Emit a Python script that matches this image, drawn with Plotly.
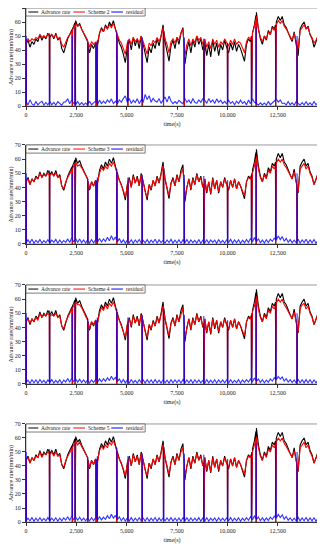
import numpy as np
import plotly.graph_objects as go

# ---------------- data ----------------
time_s = [round(i * 14500 / 147) for i in range(148)]

advance_rate = [
    44, 47, 42, 46, 44, 48, 46, 51, 47, 50,
    48, 52, 49, 51, 48, 52, 47, 49, 41, 38,
    44, 48, 51, 54, 57, 61, 57, 59, 55, 52,
    50, 46, 38, 44, 41, 45, 43, 52, 56, 53,
    58, 55, 60, 57, 61, 55, 50, 45, 42, 37,
    31, 42, 47, 40, 49, 43, 48, 41, 50, 44,
    36, 31, 42, 38, 45, 41, 48, 43, 50, 58,
    46, 40, 32, 43, 47, 41, 49, 44, 52, 56,
    30, 40, 46, 38, 47, 42, 50, 44, 48, 40,
    46, 36, 44, 35, 47, 39, 45, 36, 44, 40,
    47, 42, 38, 45, 40, 46, 39, 44, 41, 37,
    32, 44, 48, 46, 52, 58, 67, 55, 48, 44,
    50, 47, 54, 51, 57, 55, 60, 64, 61, 64,
    58, 56, 52, 49, 46, 53, 44, 36, 55, 58,
    60, 55, 57, 51, 48, 42, 46, 50]

scheme_2 = [
    47, 48, 46, 48, 47, 49, 48, 51, 49, 50,
    49, 51, 50, 51, 49, 51, 48, 49, 44, 42,
    46, 49, 51, 53, 56, 59, 57, 58, 55, 52,
    50, 47, 42, 46, 44, 46, 45, 52, 55, 53,
    57, 55, 58, 56, 59, 55, 51, 47, 45, 41,
    37, 45, 48, 44, 49, 46, 48, 45, 50, 46,
    41, 37, 45, 43, 47, 45, 49, 46, 50, 56,
    48, 44, 38, 46, 48, 45, 49, 47, 52, 55,
    36, 44, 48, 43, 48, 45, 50, 47, 49, 44,
    48, 42, 46, 41, 48, 44, 47, 42, 46, 44,
    48, 45, 43, 47, 44, 48, 44, 46, 45, 42,
    38, 46, 49, 48, 52, 57, 64, 55, 49, 46,
    50, 48, 53, 51, 56, 54, 58, 61, 59, 61,
    57, 55, 52, 49, 47, 52, 46, 41, 54, 56,
    58, 55, 56, 51, 49, 45, 47, 50]

scheme_3 = [
    44, 46, 42, 46, 44, 47, 46, 50, 47, 49,
    48, 50, 48, 50, 48, 50, 47, 48, 41, 39,
    44, 47, 50, 52, 55, 58, 55, 56, 54, 51,
    49, 46, 39, 44, 41, 45, 43, 50, 54, 52,
    55, 53, 57, 55, 58, 54, 49, 45, 42, 38,
    33, 42, 46, 40, 48, 43, 47, 41, 49, 44,
    37, 33, 42, 39, 45, 41, 47, 43, 49, 55,
    46, 40, 34, 43, 46, 41, 48, 44, 50, 53,
    33, 40, 46, 39, 46, 42, 49, 44, 47, 40,
    46, 37, 44, 36, 46, 39, 45, 37, 44, 40,
    46, 42, 39, 45, 40, 46, 39, 44, 41, 38,
    34, 44, 47, 46, 50, 55, 62, 53, 47, 44,
    49, 46, 52, 50, 55, 53, 57, 60, 58, 60,
    56, 54, 51, 48, 46, 51, 44, 37, 53, 55,
    57, 53, 55, 50, 47, 42, 46, 49]

scheme_4 = [
    44, 46, 43, 46, 44, 47, 45, 50, 47, 49,
    48, 50, 48, 49, 48, 50, 47, 48, 41, 39,
    44, 47, 50, 53, 55, 58, 56, 56, 54, 51,
    49, 45, 39, 44, 42, 45, 43, 50, 54, 52,
    56, 53, 57, 55, 58, 54, 49, 45, 41, 38,
    33, 42, 46, 41, 48, 43, 47, 42, 49, 44,
    37, 33, 42, 39, 44, 41, 47, 43, 49, 55,
    46, 40, 34, 43, 46, 41, 48, 44, 50, 54,
    33, 41, 46, 39, 46, 42, 49, 44, 47, 41,
    46, 37, 44, 36, 46, 40, 45, 37, 44, 40,
    46, 42, 39, 45, 40, 46, 39, 44, 41, 38,
    34, 44, 47, 46, 51, 55, 62, 53, 47, 44,
    49, 46, 52, 50, 55, 53, 57, 60, 58, 60,
    56, 54, 51, 48, 46, 51, 44, 37, 53, 56,
    57, 53, 55, 50, 47, 42, 46, 49]

scheme_5 = [
    44, 46, 42, 46, 44, 47, 46, 50, 46, 49,
    48, 50, 48, 50, 47, 50, 47, 48, 41, 39,
    44, 47, 50, 52, 55, 58, 55, 57, 54, 51,
    49, 46, 39, 44, 41, 45, 43, 51, 54, 52,
    55, 53, 57, 55, 58, 54, 49, 45, 42, 38,
    33, 42, 46, 40, 48, 43, 47, 41, 49, 44,
    37, 33, 42, 39, 45, 41, 47, 43, 49, 55,
    46, 40, 34, 43, 46, 41, 48, 44, 50, 53,
    33, 40, 46, 39, 46, 42, 49, 44, 47, 40,
    46, 37, 44, 36, 46, 39, 45, 37, 44, 40,
    46, 42, 39, 45, 40, 46, 39, 44, 41, 38,
    34, 44, 47, 46, 50, 55, 61, 53, 47, 44,
    49, 46, 52, 50, 55, 53, 57, 60, 58, 60,
    56, 54, 51, 48, 46, 51, 44, 37, 53, 55,
    57, 53, 55, 50, 47, 42, 46, 49]

residual_2 = [
    3.2, 0.8, 4.4, 1.5, 0.6, 3.1, 0.9, 2.4, 3.4, 0.7,
    2.5, 0.8, 3.3, 0.9, 2.6, 0.7, 3.1, 1.8, 0.6, 2.7,
    3.1, 5.2, 1.6, 4.3, 1.9, 0.8, 3.2, 0.9, 2.4, 0.8,
    2.2, 0.7, 3.4, 0.9, 2.3, 3.3, 0.8, 4.2, 1.8, 3.5,
    1.9, 4.3, 2.6, 5.1, 1.8, 3.4, 1.7, 4.3, 2.6, 5.3,
    7.2, 2.6, 5.4, 1.8, 4.1, 2.5, 5.2, 1.7, 4.3, 2.6,
    8.3, 4.6, 7.4, 2.7, 5.5, 3.6, 2.8, 5.3, 1.9, 4.2,
    6.4, 2.8, 7.1, 3.6, 1.7, 3.2, 1.8, 4.1, 2.7, 1.6,
    5.2, 2.6, 4.3, 1.8, 5.4, 2.7, 1.9, 4.3, 2.6, 5.1,
    4.2, 1.9, 5.3, 2.7, 4.4, 1.8, 5.1, 2.6, 4.2, 1.7,
    3.3, 1.6, 4.1, 1.8, 3.2, 0.9, 3.4, 1.7, 4.2, 1.8,
    3.1, 0.8, 4.3, 1.7, 5.1, 2.6, 1.8, 0.7, 2.3, 0.8,
    2.2, 0.7, 3.3, 0.9, 2.4, 3.2, 5.1, 2.8, 4.3, 1.8,
    2.1, 0.8, 3.2, 0.9, 2.3, 0.7, 3.1, 1.8, 0.7, 2.4,
    0.9, 3.1, 0.8, 2.3, 0.7, 3.2, 0.9, 2.2]

residual_3 = [
    0.6, 2.9, 0.8, 3.3, 0.5, 2.6, 1.0, 3.1, 0.7, 2.4,
    0.9, 3.0, 0.6, 2.7, 1.1, 3.2, 0.5, 2.8, 0.8, 2.5,
    1.2, 3.6, 1.0, 4.4, 1.5, 3.8, 1.1, 3.5, 0.9, 2.8,
    0.7, 2.9, 0.6, 3.1, 0.9, 2.7, 1.3, 3.9, 1.4, 3.6,
    1.8, 4.7, 2.2, 5.8, 2.6, 4.9, 1.5, 3.8, 0.8, 2.9,
    0.6, 2.7, 0.9, 3.0, 0.5, 2.8, 1.0, 3.2, 0.7, 2.6,
    0.8, 3.1, 0.6, 2.7, 1.0, 3.3, 0.5, 2.9, 0.9, 2.6,
    0.7, 2.8, 1.0, 3.2, 0.6, 2.7, 0.8, 3.0, 0.5, 2.9,
    0.9, 3.1, 0.6, 2.8, 1.0, 2.6, 0.7, 3.2, 0.5, 2.7,
    0.8, 3.0, 0.6, 2.9, 1.1, 2.7, 0.5, 3.1, 0.8, 2.6,
    0.7, 2.9, 1.0, 3.2, 0.6, 2.8, 0.9, 3.0, 0.5, 2.7,
    0.9, 3.2, 1.1, 3.8, 1.4, 4.6, 1.6, 3.7, 0.8, 2.9,
    0.7, 3.0, 1.0, 3.4, 1.8, 4.1, 2.6, 5.6, 3.1, 5.2,
    1.9, 4.0, 1.2, 3.1, 0.8, 2.7, 1.0, 3.4, 0.7, 2.9,
    1.0, 3.3, 0.6, 2.8, 0.9, 3.1, 0.5, 2.7]

residual_4 = [
    0.8, 2.7, 0.5, 3.0, 0.9, 2.8, 0.6, 3.2, 1.0, 2.6,
    0.6, 2.9, 1.0, 3.1, 0.7, 2.6, 0.9, 3.0, 0.5, 2.8,
    1.4, 3.9, 1.2, 4.1, 1.7, 3.5, 1.3, 3.3, 1.0, 2.9,
    0.9, 3.0, 0.7, 2.8, 1.1, 3.1, 1.0, 3.6, 1.6, 3.8,
    2.0, 4.4, 2.4, 5.5, 2.9, 4.6, 1.7, 3.6, 1.0, 3.1,
    0.8, 2.9, 0.6, 3.2, 0.9, 2.6, 0.7, 3.0, 1.0, 2.8,
    0.6, 3.0, 0.8, 2.9, 0.7, 3.1, 0.9, 2.7, 0.6, 3.0,
    0.9, 2.7, 0.6, 3.0, 0.8, 2.9, 1.0, 2.8, 0.7, 3.1,
    0.7, 2.9, 0.9, 3.0, 0.6, 2.8, 1.0, 2.9, 0.8, 2.6,
    0.6, 3.1, 0.8, 2.7, 0.9, 3.0, 0.7, 2.8, 1.0, 2.9,
    0.9, 2.8, 0.7, 3.0, 0.8, 2.6, 1.0, 3.1, 0.6, 2.9,
    1.1, 3.0, 1.3, 3.6, 1.6, 4.3, 1.9, 3.5, 1.0, 3.0,
    0.9, 2.8, 1.2, 3.6, 2.0, 4.4, 2.8, 5.3, 3.4, 5.0,
    2.1, 3.8, 1.4, 3.0, 1.0, 2.9, 0.8, 3.2, 0.9, 3.0,
    0.8, 3.1, 0.9, 3.0, 0.7, 2.9, 0.8, 2.8]

residual_5 = [
    0.7, 2.8, 0.9, 3.1, 0.6, 2.7, 0.8, 3.0, 0.9, 2.5,
    0.8, 3.1, 0.7, 2.8, 0.9, 3.0, 0.6, 2.7, 0.9, 2.9,
    1.3, 3.7, 1.1, 4.2, 1.6, 3.6, 1.2, 3.4, 1.0, 2.7,
    0.8, 2.8, 0.8, 3.0, 1.0, 2.9, 1.2, 3.7, 1.5, 3.5,
    1.9, 4.5, 2.3, 5.6, 2.7, 4.7, 1.6, 3.7, 0.9, 3.0,
    0.7, 2.8, 0.8, 3.1, 0.7, 2.7, 0.9, 3.1, 0.8, 2.7,
    0.7, 3.0, 0.7, 2.8, 0.9, 3.2, 0.6, 2.8, 0.8, 2.8,
    0.8, 2.9, 0.9, 3.1, 0.7, 2.8, 0.9, 2.9, 0.6, 3.0,
    0.8, 3.0, 0.7, 2.9, 0.9, 2.7, 0.8, 3.1, 0.6, 2.8,
    0.7, 3.0, 0.7, 2.8, 1.0, 2.9, 0.6, 3.0, 0.9, 2.7,
    0.8, 2.9, 0.9, 3.1, 0.7, 2.7, 0.9, 3.0, 0.6, 2.8,
    1.0, 3.1, 1.2, 3.7, 1.5, 4.4, 1.7, 3.6, 0.9, 3.0,
    0.8, 2.9, 1.1, 3.5, 1.9, 4.2, 2.7, 5.4, 3.2, 5.1,
    2.0, 3.9, 1.3, 3.0, 0.9, 2.8, 0.9, 3.3, 0.8, 2.9,
    0.9, 3.2, 0.8, 2.9, 0.8, 3.0, 0.6, 2.8]

# stoppages: the rate drops to zero for a moment, residual spikes
drop_t = [10, 1170, 2300, 2440, 3070, 3480, 3540, 4510, 5060, 5770,
          6830, 7860, 8830, 10010, 11200, 11430, 12400, 13460]
adv_drop = [0, 0, 0, 0, 0, 0, 0, 0, 0, 0, 0, 0, 0, 0, 0, 0, 0, 0]
scheme_drop = [0, 0, 0, 0, 0, 0, 0, 0, 0, 0, 0, 0, 0, 0, 0, 0, 0, 0]
residual_spike = [50, 52, 50, 56, 46, 45, 47, 53, 47, 49,
                  53, 49, 48, 45, 50, 56, 55, 50]

scheme_names = ["Scheme 2", "Scheme 3", "Scheme 4", "Scheme 5"]
scheme_series = [scheme_2, scheme_3, scheme_4, scheme_5]
residual_series = [residual_2, residual_3, residual_4, residual_5]

x_tickvals = [0, 2500, 5000, 7500, 10000, 12500]
x_ticktext = ["0", "2,500", "5,000", "7,500", "10,000", "12,500"]
y_tickvals = [0, 10, 20, 30, 40, 50, 60, 70]

# ---------------- helpers ----------------
def with_spikes(base, spikes):
    base = np.asarray(base, float)
    xs = list(time_s)
    ys = list(base)
    for td, v in zip(drop_t, spikes):
        for dx in (-12, 0, 12):
            xs.append(td + dx)
            ys.append(v if dx == 0 else float(np.interp(td + dx, time_s, base)))
    order = np.argsort(np.asarray(xs, float), kind="stable")
    return np.asarray(xs, float)[order], np.asarray(ys, float)[order]

# ---------------- figure ----------------
# the page body keeps its default 8px margin, so the figure is sized to fit
W, H = 317, 542
ML, MR, MT, MB = 18, 7, 0, 28
domains = [(0.8093, 1.0), (0.5409, 0.7335), (0.2685, 0.4611), (0.0, 0.1907)]
FONT = "Liberation Serif"
TXT = "#222222"

fig = go.Figure()
layout = dict(
    width=W, height=H,
    margin=dict(l=ML, r=MR, t=MT, b=MB, pad=0),
    paper_bgcolor="white", plot_bgcolor="white",
    font=dict(family=FONT, size=6, color=TXT),
    showlegend=False,
)
shapes = []
annotations = []

for i in range(4):
    n = i + 1
    xa = "x" if n == 1 else f"x{n}"
    ya = "y" if n == 1 else f"y{n}"
    xk = "xaxis" if n == 1 else f"xaxis{n}"
    yk = "yaxis" if n == 1 else f"yaxis{n}"

    ax, ay = with_spikes(advance_rate, adv_drop)
    sx, sy = with_spikes(scheme_series[i], scheme_drop)
    rx, ry = with_spikes(residual_series[i], residual_spike)

    fig.add_trace(go.Scatter(x=ax, y=ay, mode="lines", name="Advance rate",
                             line=dict(color="#000000", width=1.1), xaxis=xa, yaxis=ya))
    fig.add_trace(go.Scatter(x=sx, y=sy, mode="lines", name=scheme_names[i],
                             line=dict(color="#ff0000", width=1.1), xaxis=xa, yaxis=ya))
    fig.add_trace(go.Scatter(x=rx, y=ry, mode="lines", name="residual",
                             line=dict(color="#0000ff", width=1.1), opacity=0.8,
                             xaxis=xa, yaxis=ya))

    layout[xk] = dict(
        domain=[0, 1], anchor=ya, range=[0, 14500],
        tickvals=x_tickvals, ticktext=x_ticktext,
        ticks="outside", ticklen=3, tickwidth=0.8, tickcolor="#333",
        showline=True, linecolor="#333", linewidth=1,
        showgrid=False, zeroline=False,
        tickfont=dict(size=6, family=FONT, color=TXT),
        title=dict(text="time(s)", font=dict(size=6, family=FONT, color=TXT), standoff=4),
        automargin=False,
    )
    layout[yk] = dict(
        domain=list(domains[i]), anchor=xa, range=[0, 70],
        tickvals=y_tickvals,
        ticks="outside", ticklen=3, tickwidth=0.8, tickcolor="#333",
        showline=True, linecolor="#333", linewidth=1,
        showgrid=False, zeroline=False,
        tickfont=dict(size=6, family=FONT, color=TXT),
        title=dict(text="Advance rate(mm/min)", font=dict(size=6, family=FONT, color=TXT), standoff=2),
        automargin=False,
    )

    xd, yd = f"{xa} domain", f"{ya} domain"
    # grey frame
    shapes.append(dict(type="rect", xref=xd, yref=yd, x0=0, x1=1, y0=0, y1=1,
                       line=dict(color="#9a9a9a", width=1), layer="below"))
    # legend box
    shapes.append(dict(type="rect", xref=xd, yref=yd, x0=0.0, x1=0.408, y0=0.918, y1=1.0,
                       line=dict(color="#444", width=0.7), fillcolor="white", layer="above"))
    leg = [("#000000", 0.008, 0.042, 0.049, "Advance rate"),
           ("#ff0000", 0.162, 0.202, 0.208, scheme_names[i]),
           ("#0000ff", 0.292, 0.332, 0.339, "residual")]
    for col, a0, a1, tx, label in leg:
        shapes.append(dict(type="line", xref=xd, yref=yd, x0=a0, x1=a1, y0=0.959, y1=0.959,
                           line=dict(color=col, width=1), layer="above"))
        annotations.append(dict(xref=xd, yref=yd, x=tx, y=0.959, text=label, showarrow=False,
                                xanchor="left", yanchor="middle", borderpad=0,
                                font=dict(size=5.5, family=FONT, color=TXT)))

layout["shapes"] = shapes
layout["annotations"] = annotations
fig.update_layout(**layout)
fig.write_html("out.html")
